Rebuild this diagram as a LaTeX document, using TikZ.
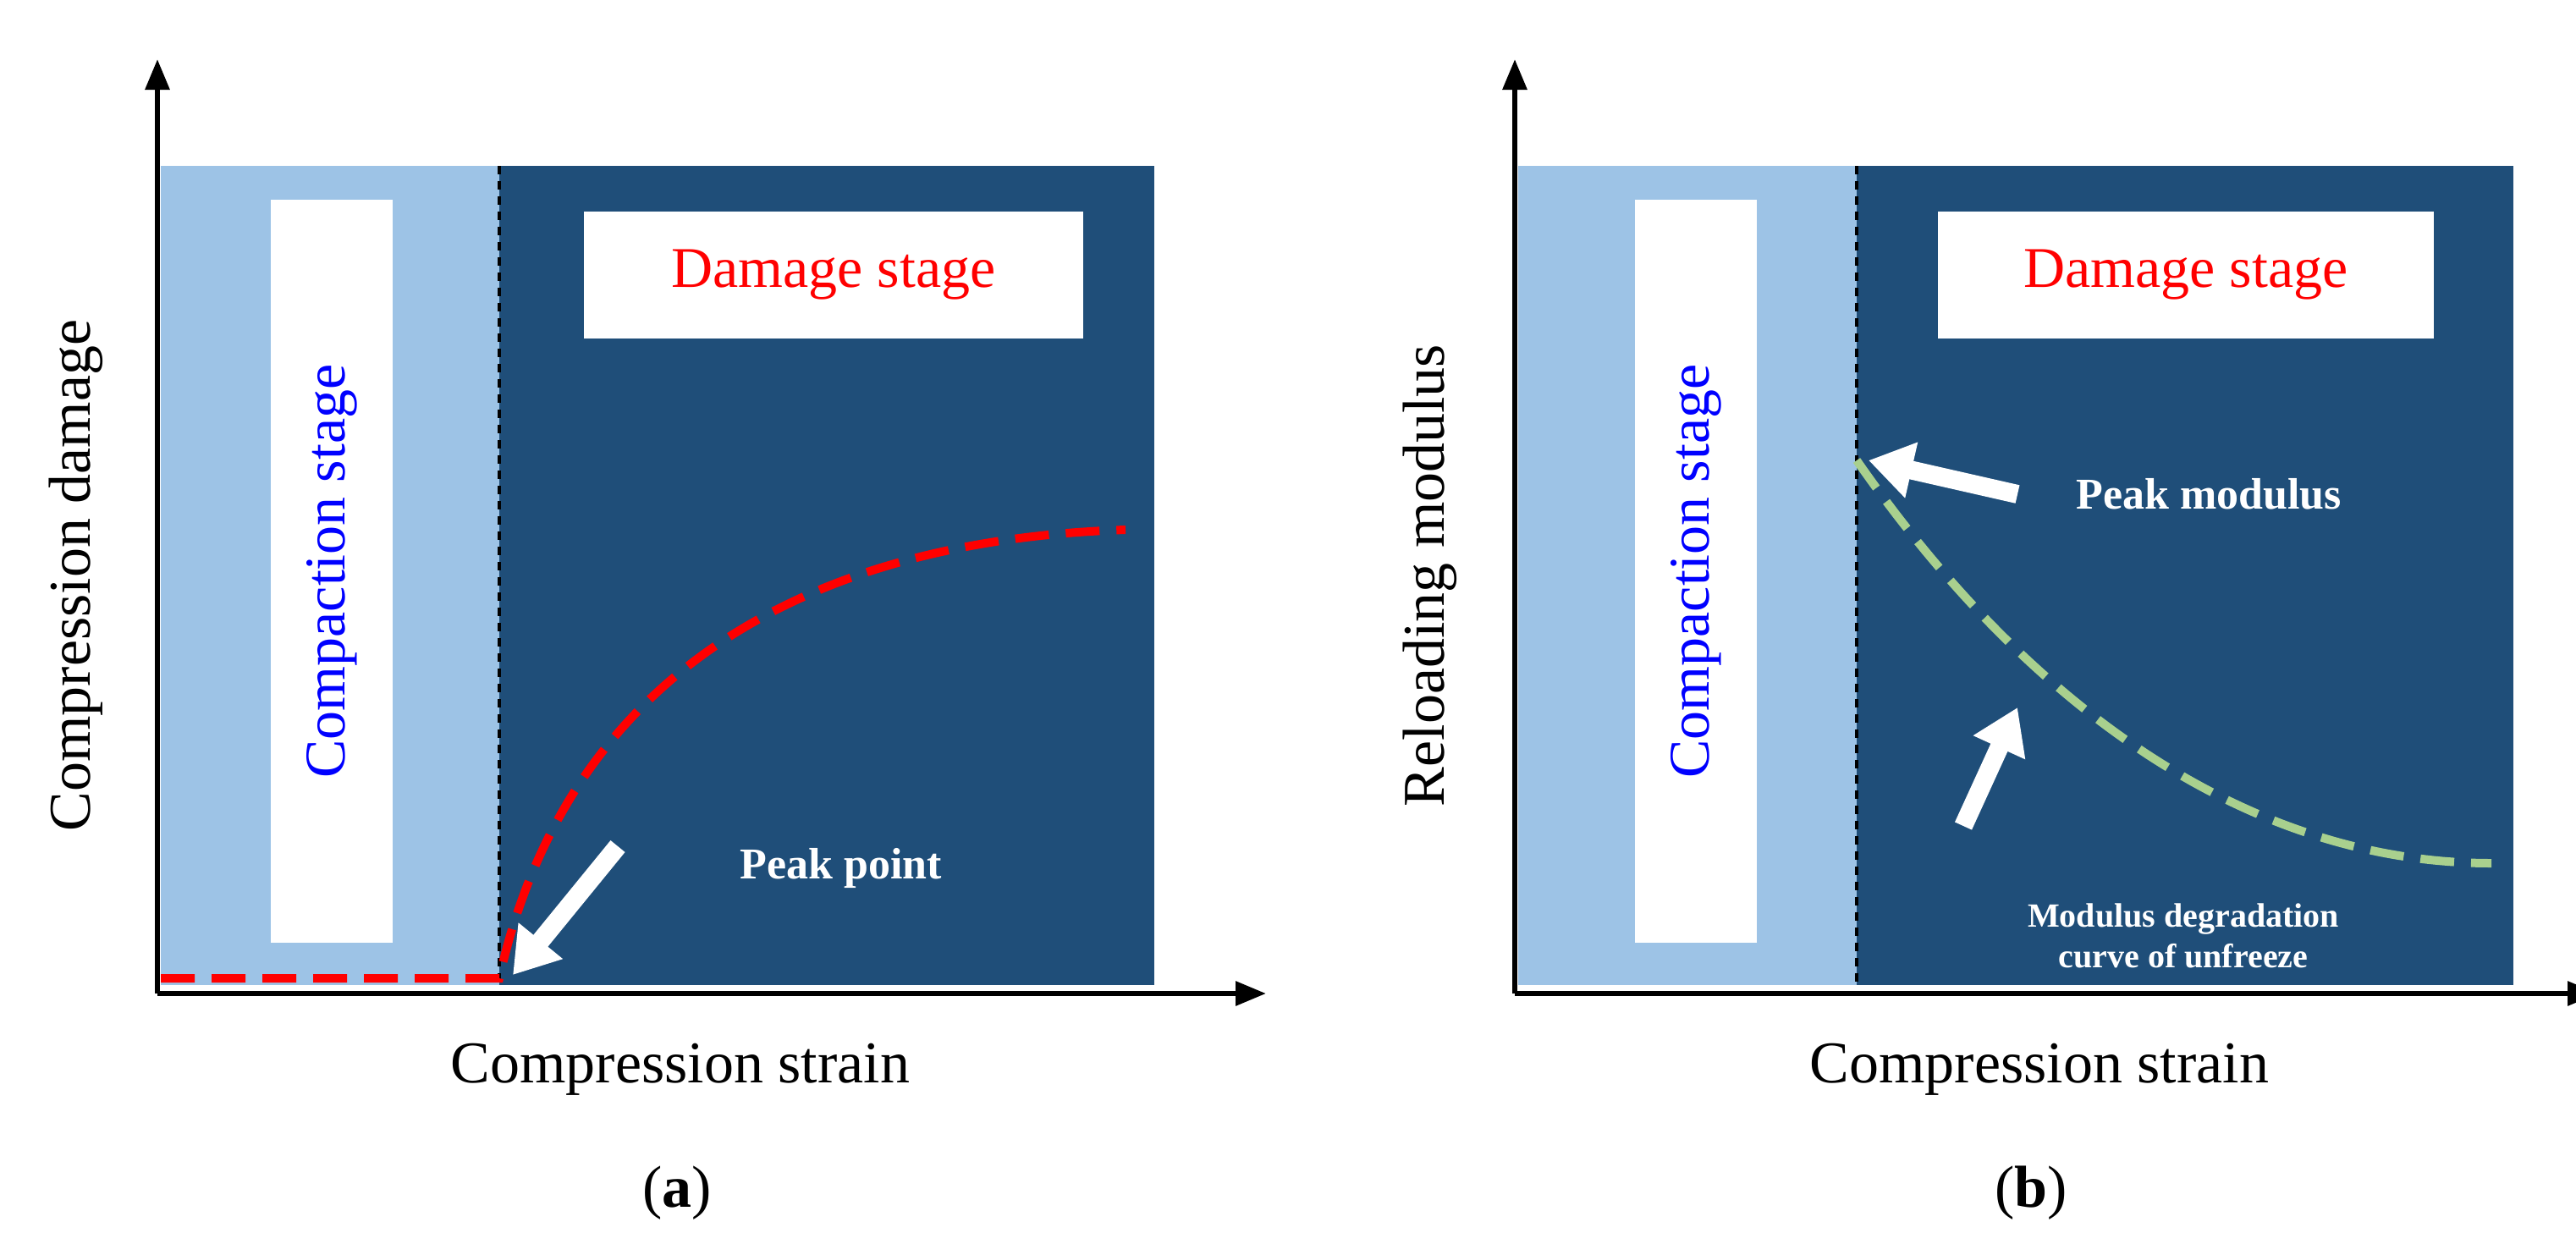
\documentclass[tikz,border=0pt]{standalone}
\usepackage{fontspec}
\setmainfont{Liberation Serif}
\usetikzlibrary{arrows.meta}
\definecolor{lb}{RGB}{157,195,230}
\definecolor{db}{RGB}{31,78,121}
\definecolor{gc}{RGB}{169,208,142}
\tikzset{
 axis/.style={line width=3pt,-{Triangle[width=14pt,length=18pt]}},
 wbox/.style={fill=white,draw=none},
 warrow/.style={white,line width=11pt,-{Triangle[width=32pt,length=26pt]}},
 lab/.style={font=\fontsize{35}{40}\selectfont},
 curv/.style={line width=5pt,dash pattern=on 20pt off 10pt},
}
\begin{document}
\begin{tikzpicture}[x=1pt,y=-1pt]
\useasboundingbox (0,0) rectangle (1522,728);
% panel a
\fill[lb] (95,98) rectangle (295,582);
\fill[db] (295,98) rectangle (682,582);
\node[wbox,minimum width=72pt,minimum height=439pt] (ca) at (196,337.5) {};
\node[rotate=90,blue,font=\fontsize{34}{36}\selectfont] at (ca) {Compaction stage};
\node[wbox,minimum width=295pt,minimum height=75pt] (da) at (492.5,162.5) {};
\node[red,font=\fontsize{34}{36}\selectfont] at (da) {Damage stage};
\draw[line width=2pt,dash pattern=on 5pt off 4pt] (295,98) -- (295,582);
\draw[red,curv] (95,578) -- (295,578) .. controls (330,420) and (450,320) .. (665,313);
\coordinate (a0) at (93,587);
\coordinate (ay) at (93,35);
\coordinate (ax) at (748,587);
\draw[axis] (a0) -- (ay);
\draw[axis] (a0) -- (ax);
\coordinate (pa1) at (365,500);
\coordinate (pa2) at (303,576);
\draw[warrow] (pa1) -- (pa2);
\node[white,font=\bfseries\fontsize{26}{28}\selectfont] (pp) at (497,513) {Peak point};
\node[lab,rotate=90] (yla) at (45,340) {Compression damage};
\node[lab] (xla) at (402,632) {Compression strain};
\node[lab] (capa) at (400,705) {(\textbf{a})};
% panel b
\fill[lb] (897,98) rectangle (1097,582);
\fill[db] (1097,98) rectangle (1485,582);
\node[wbox,minimum width=72pt,minimum height=439pt] (cb) at (1002,337.5) {};
\node[rotate=90,blue,font=\fontsize{34}{36}\selectfont] at (cb) {Compaction stage};
\node[wbox,minimum width=293pt,minimum height=75pt] (dbx) at (1291.5,162.5) {};
\node[red,font=\fontsize{34}{36}\selectfont] at (dbx) {Damage stage};
\draw[line width=2pt,dash pattern=on 5pt off 4pt] (1097,98) -- (1097,582);
\draw[gc,curv] (1097,272) .. controls (1200,420) and (1330,510) .. (1472,510);
\coordinate (b0) at (895,587);
\coordinate (by) at (895,35);
\coordinate (bx) at (1535,587);
\draw[axis] (b0) -- (by);
\draw[axis] (b0) -- (bx);
\coordinate (pb1) at (1192,292);
\coordinate (pb2) at (1104,272);
\draw[warrow] (pb1) -- (pb2);
\node[white,font=\bfseries\fontsize{26}{28}\selectfont] (pm) at (1305,292) {Peak modulus};
\coordinate (qb1) at (1160,488);
\coordinate (qb2) at (1192,418);
\draw[warrow] (qb1) -- (qb2);
\node[white,align=center,font=\bfseries\fontsize{20}{24}\selectfont] (md) at (1290,553) {Modulus degradation\\curve of unfreeze};
\node[lab,rotate=90] (ylb) at (845,340) {Reloading modulus};
\node[lab] (xlb) at (1205,632) {Compression strain};
\node[lab] (capb) at (1200,705) {(\textbf{b})};
\end{tikzpicture}
\end{document}
